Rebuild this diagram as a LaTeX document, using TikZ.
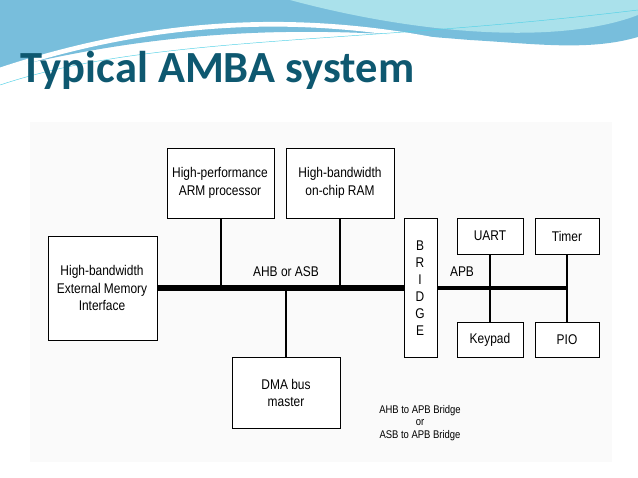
\documentclass[tikz,border=0pt]{standalone}
\usepackage{fontspec}
\setmainfont{Liberation Sans}[FakeStretch=0.85]
\newfontfamily\titlefont{Carlito}
\usetikzlibrary{positioning}
\definecolor{titleblue}{RGB}{14,88,112}
\definecolor{waveA}{RGB}{120,190,220}
\definecolor{waveB}{RGB}{170,225,235}
\tikzset{
  lbl/.style={align=center, font=\fontsize{12}{15}\selectfont},
  ahb/.style={line width=5pt},
  apb/.style={line width=3.5pt},
  tap/.style={line width=2.5pt},
}
\begin{document}
\begin{tikzpicture}[x=0.03cm, y=-0.03cm]
	\useasboundingbox (0,0) rectangle (638,478);
	\fill [white] (0,0) rectangle (638,478);

	% waves at the top
	\fill [waveA] (0,0) -- (700,0) .. controls (640,60) and (560,45) .. (470,40)
		.. controls (350,30) and (200,20) .. (0,70) -- cycle;
	\fill [waveB] (290,0) -- (638,0) -- (638,15) .. controls (560,45) and (420,35) .. (290,0) -- cycle;
	\draw [white, line width=4pt] (0,70) .. controls (150,20) and (300,10) .. (460,45);
	\draw [waveA!70!cyan, thin] (0,85) .. controls (150,35) and (350,45) .. (638,10);

	\node [font=\titlefont\bfseries\fontsize{38}{40}\selectfont, text=titleblue, anchor=west]
		(title) at (16,70) {Typical AMBA system};

	% diagram panel
	\fill [gray!4] (30,122) rectangle (612,462);

	\draw [thick, fill=white] (48,236) rectangle (157,340);
	\node [lbl] (mem) at (102,288) {High-bandwidth\\External Memory\\Interface};
	\coordinate (memr) at (157,288);

	\draw [thick, fill=white] (167,148) rectangle (274,218);
	\node [lbl] (arm) at (220,183) {High-performance\\ARM processor};
	\coordinate (armb) at (221,218);

	\draw [thick, fill=white] (286,148) rectangle (394,218);
	\node [lbl] (ram) at (340,183) {High-bandwidth\\on-chip RAM};
	\coordinate (ramb) at (340,218);

	\draw [thick, fill=white] (404,218) rectangle (437,357);
	\node [align=center, font=\fontsize{12}{14.6}\selectfont] (bridge) at (420,288) {B\\R\\I\\D\\G\\E};
	\coordinate (brl) at (404,288);
	\coordinate (brr) at (437,288);

	\draw [thick, fill=white] (232,357) rectangle (340,428);
	\node [lbl] (dma) at (286,393) {DMA bus\\master};
	\coordinate (dmat) at (286,357);

	\draw [thick, fill=white] (457,218) rectangle (523,254);
	\node [lbl] (uart) at (490,236) {UART};
	\draw [thick, fill=white] (535,218) rectangle (599,254);
	\node [lbl] (timer) at (567,236) {Timer};
	\draw [thick, fill=white] (457,322) rectangle (523,357);
	\node [lbl] (keypad) at (490,340) {Keypad};
	\draw [thick, fill=white] (535,322) rectangle (599,357);
	\node [lbl] (pio) at (567,340) {PIO};

	% buses
	\draw [ahb] (memr) -- (brl);
	\draw [apb] (brr) -- (567,288);
	\draw [tap] (armb) -- (221,288);
	\draw [tap] (ramb) -- (340,288);
	\draw [tap] (286,288) -- (dmat);
	\draw [tap] (490,254) -- (490,322);
	\draw [tap] (567,254) -- (567,322);

	\node [lbl] (ahbl) at (286,272) {AHB or ASB};
	\node [lbl] (apbl) at (462,272) {APB};
	\node [align=center, font=\fontsize{9.5}{10.5}\selectfont] (note) at (420,423) {AHB to APB Bridge\\or\\ASB to APB Bridge};
\end{tikzpicture}
\end{document}
